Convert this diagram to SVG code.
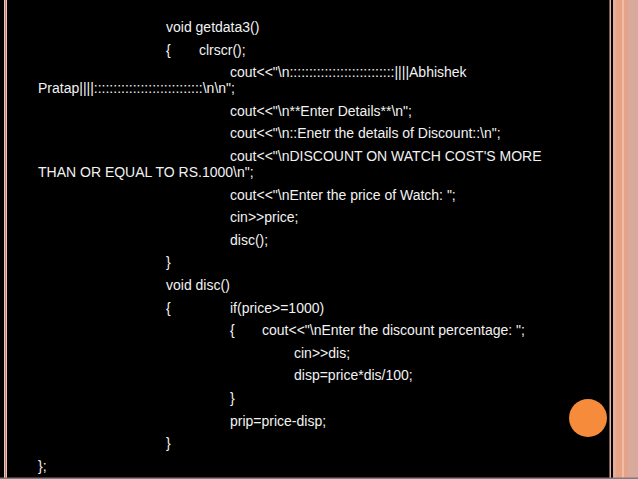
<svg xmlns="http://www.w3.org/2000/svg" width="638" height="479" viewBox="0 0 638 479">
<style>
.t{font-family:"Liberation Sans",Arial,Helvetica,sans-serif;font-size:14px;fill:#f2f2f2}
</style>
<rect x="0" y="0" width="638" height="479" fill="#000"/>
<g id="frame">
<rect x="4" y="0" width="1" height="479" fill="#f0c4b4"/>
<rect x="5" y="0" width="1" height="479" fill="#b88070"/>
<rect x="6" y="0" width="1" height="479" fill="#f0c4b4"/>
<rect x="609.5" y="0" width="1.5" height="479" fill="#e8b4a4"/>
<rect x="613" y="0" width="3" height="479" fill="#e4ac9c"/>
<rect x="616" y="0" width="6" height="479" fill="#e8a284"/>
<rect x="622" y="0" width="2" height="479" fill="#f4bca4"/>
<rect x="624" y="0" width="4" height="479" fill="#e4a48c"/>
<rect x="628" y="0" width="10" height="479" fill="#d8aa9c"/>
<rect x="0" y="477.5" width="638" height="1.5" fill="#7c7c7c"/>
<circle cx="588" cy="418" r="19" fill="#f68b3b"/>
</g>
<g id="code">
<text class="t" x="166" y="32">void getdata3()</text>
<text class="t" x="166" y="54.6">{</text>
<text class="t" x="199" y="54.6">clrscr();</text>
<text class="t" x="230" y="77.2">cout&lt;&lt;"\n:::::::::::::::::::::::::::||||Abhishek</text>
<text class="t" x="38" y="93.2">Pratap||||::::::::::::::::::::::::::::\n\n";</text>
<text class="t" x="230" y="115.8">cout&lt;&lt;"\n**Enter Details**\n";</text>
<text class="t" x="230" y="138.4">cout&lt;&lt;"\n::Enetr the details of Discount::\n";</text>
<text class="t" x="230" y="161">cout&lt;&lt;"\nDISCOUNT ON WATCH COST'S MORE</text>
<text class="t" x="38" y="177">THAN OR EQUAL TO RS.1000\n";</text>
<text class="t" x="230" y="199.6">cout&lt;&lt;"\nEnter the price of Watch: ";</text>
<text class="t" x="230" y="222.2">cin&gt;&gt;price;</text>
<text class="t" x="230" y="244.8">disc();</text>
<text class="t" x="166" y="267.4">}</text>
<text class="t" x="166" y="290">void disc()</text>
<text class="t" x="166" y="312.6">{</text>
<text class="t" x="230" y="312.6">if(price&gt;=1000)</text>
<text class="t" x="230" y="335.2">{</text>
<text class="t" x="262" y="335.2">cout&lt;&lt;"\nEnter the discount percentage: ";</text>
<text class="t" x="294" y="357.8">cin&gt;&gt;dis;</text>
<text class="t" x="294" y="380.4">disp=price*dis/100;</text>
<text class="t" x="230" y="403">}</text>
<text class="t" x="230" y="425.6">prip=price-disp;</text>
<text class="t" x="166" y="448.2">}</text>
<text class="t" x="38" y="470.8">};</text>
</g>
</svg>
